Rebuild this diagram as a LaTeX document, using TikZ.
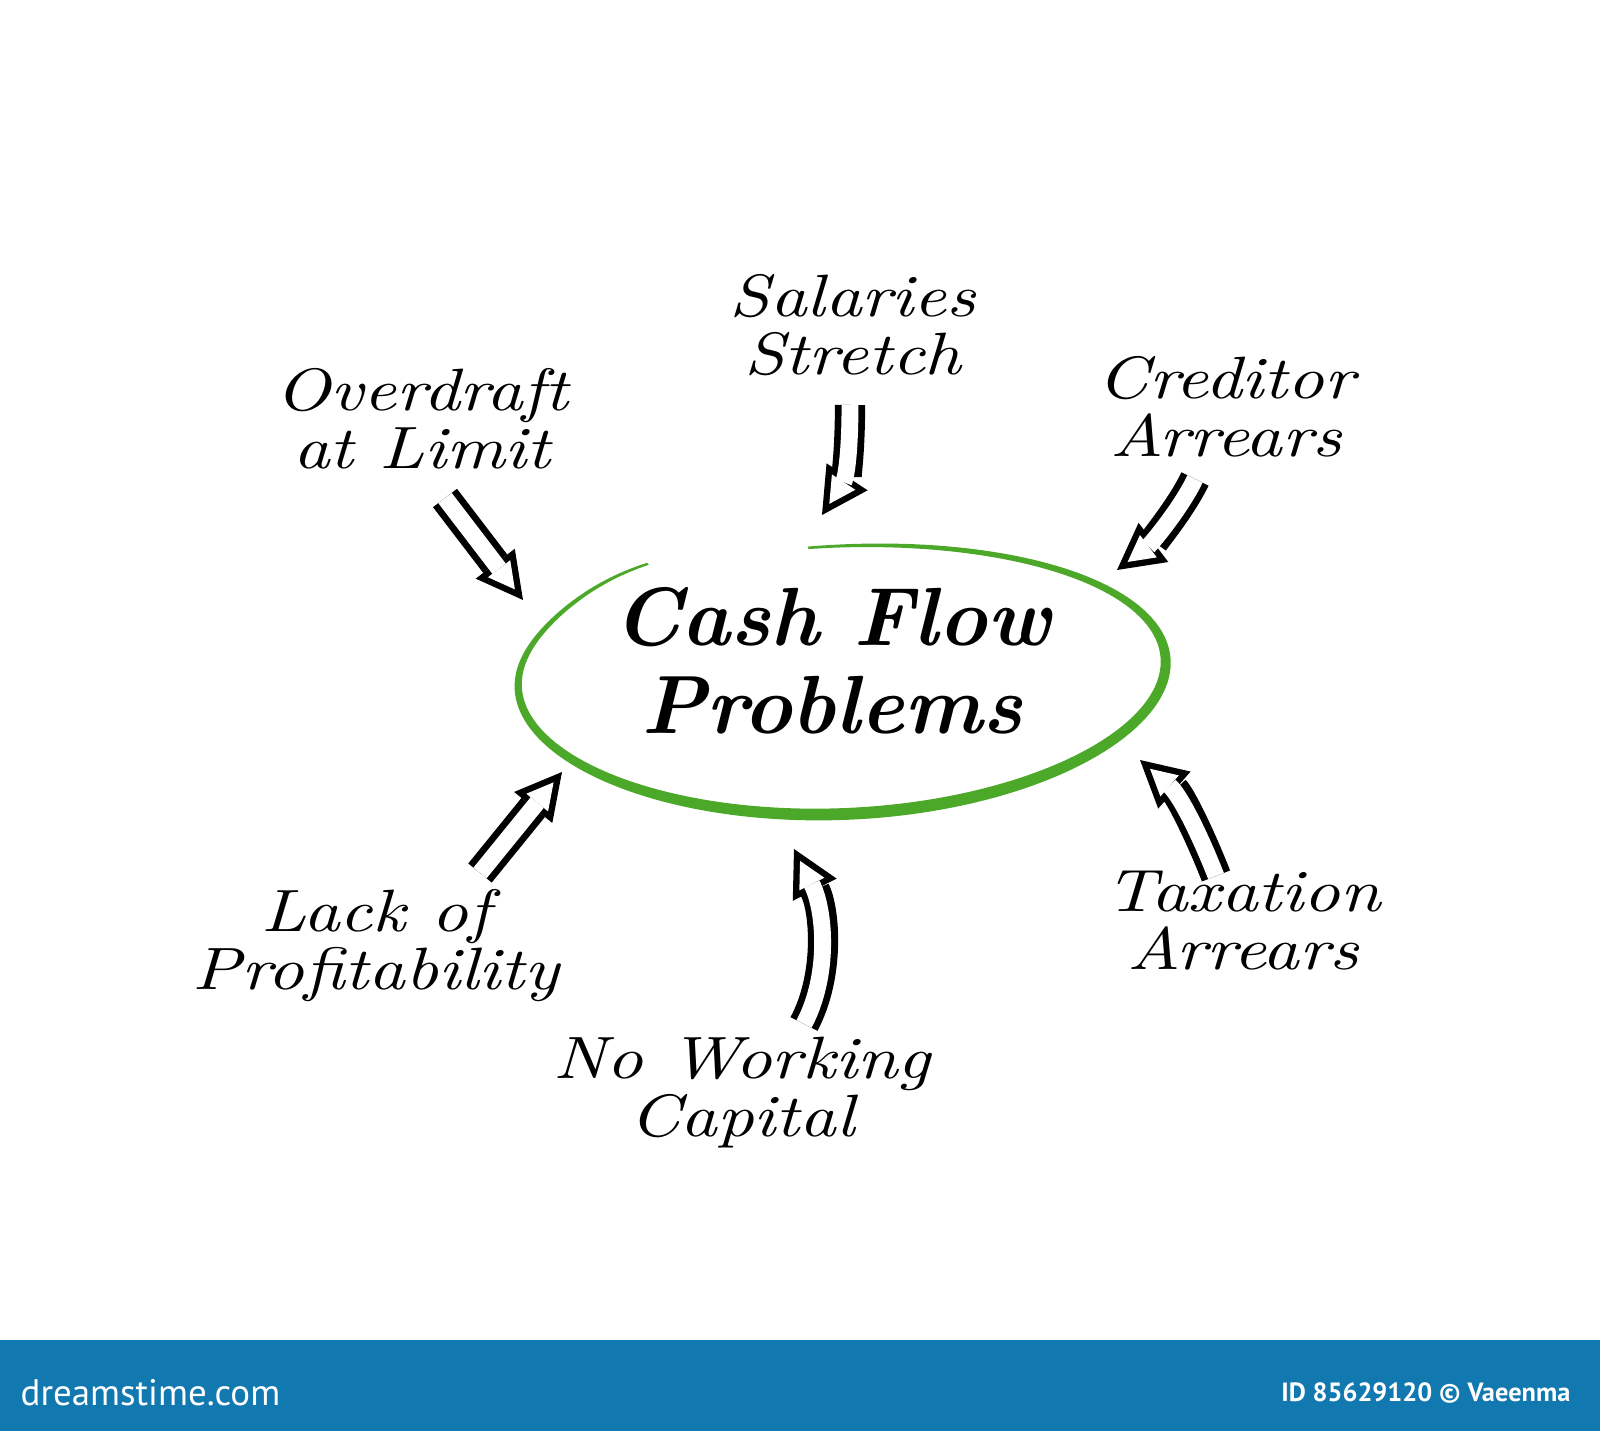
\documentclass[tikz,border=0pt]{standalone}
\usepackage{fontspec}
\usetikzlibrary{arrows.meta}
\newfontfamily\bannerfont{PT Sans}
\newfontfamily\handfont{lmroman10}[Extension=.otf, UprightFont=*-regular, ItalicFont=*-italic,
    BoldFont=*-bold, BoldItalicFont=*-bolditalic, FakeStretch=1.2]
\newfontfamily\centrefont{lmroman10}[Extension=.otf, UprightFont=*-regular, ItalicFont=*-italic,
    BoldFont=*-bold, BoldItalicFont=*-bolditalic]
\definecolor{cfgreen}{RGB}{76,168,40}
\definecolor{bannerblue}{RGB}{17,120,176}

\begin{document}
\begin{tikzpicture}[x=0.1mm, y=-0.1mm,
    declare function={
      wd(\ang)=2.5+9.5*sin(0.54381*(\ang+236));
      fl(\ang)=14*exp(-((\ang+236)/25)^2);
      ex(\ang,\dd)=(324+\dd)*cos(\ang)*cos(2.5)-(134-6*sin(\ang)+\dd)*sin(\ang)*sin(2.5);
      ey(\ang,\dd)=(324+\dd)*cos(\ang)*sin(2.5)+(134-6*sin(\ang)+\dd)*sin(\ang)*cos(2.5);
    }]
    \tikzstyle{cause label} = [align=center, inner sep=0pt, font=\handfont\fontsize{17}{16.5}\selectfont\itshape]
    \tikzstyle{hollow arrow} = [draw=white, line width=4.8pt, shorten >=3.8pt,
        -{Triangle[length=7.4pt, width=7.97pt, line width=0pt]},
        preaction={draw=black, line width=8.6pt, shorten >=0pt,
        -{Triangle[length=13pt, width=14pt, line width=0pt]}}]
\useasboundingbox (0,0) rectangle (1600,1431);
\fill[white] (0,0) rectangle (1600,1431);
% open green ring round the centre
\fill[cfgreen] plot[domain=-236:95, samples=160] ({842+ex(\x,fl(\x)+wd(\x)/2)}, {674-ey(\x,fl(\x)+wd(\x)/2)})
    -- plot[domain=95:-236, samples=160] ({842+ex(\x,fl(\x)-wd(\x)/2)}, {674-ey(\x,fl(\x)-wd(\x)/2)}) -- cycle;
\node[align=center, inner sep=0pt, font=\centrefont\fontsize{23.5}{25}\selectfont\bfseries\itshape] (cfp) at (832,661) {Cash Flow\\Problems};
\node[cause label] (sal) at (853,325) {Salaries\\Stretch};
\node[cause label] (over) at (422,419) {Overdraft\\at Limit};
\node[cause label] (cred) at (1226,407) {Creditor\\Arrears};
\node[cause label] (lack) at (376,946) {Lack of\\Profitability};
\node[cause label] (nowork) at (742,1093) {No Working\\Capital};
\node[cause label] (tax) at (1243,921) {Taxation\\Arrears};
\coordinate (sal tail) at (850,405);
\coordinate (sal tip) at (822,515);
\coordinate (over tail) at (445,498);
\coordinate (over tip) at (523,600);
\coordinate (cred tail) at (1195,479);
\coordinate (cred tip) at (1117,570);
\coordinate (lack tail) at (480,873);
\coordinate (lack tip) at (562,772);
\coordinate (nowork tail) at (804,1024);
\coordinate (nowork tip) at (794,849);
\coordinate (tax tail) at (1216,876);
\coordinate (tax tip) at (1140,760);
\draw[hollow arrow] (sal tail) .. controls (850,460) and (845,480) .. (sal tip);
\draw[hollow arrow] (over tail) -- (over tip);
\draw[hollow arrow] (cred tail) .. controls (1180,510) and (1150,545) .. (cred tip);
\draw[hollow arrow] (lack tail) -- (lack tip);
\draw[hollow arrow] (nowork tail) .. controls (830,975) and (825,910) .. (nowork tip);
\draw[hollow arrow] (tax tail) .. controls (1200,835) and (1180,795) .. (tax tip);
% banner
\fill[bannerblue] (0,1340) rectangle (1600,1431);
\node[anchor=west, inner sep=0pt, text=white, font=\bannerfont\fontsize{10.5}{12}\selectfont] (logo) at (20,1393) {dreamstime.com};
\node[anchor=east, inner sep=0pt, text=white, font=\bannerfont\bfseries\fontsize{7.5}{9}\selectfont] (id) at (1571,1393) {ID 85629120 © Vaeenma};
\end{tikzpicture}
\end{document}
